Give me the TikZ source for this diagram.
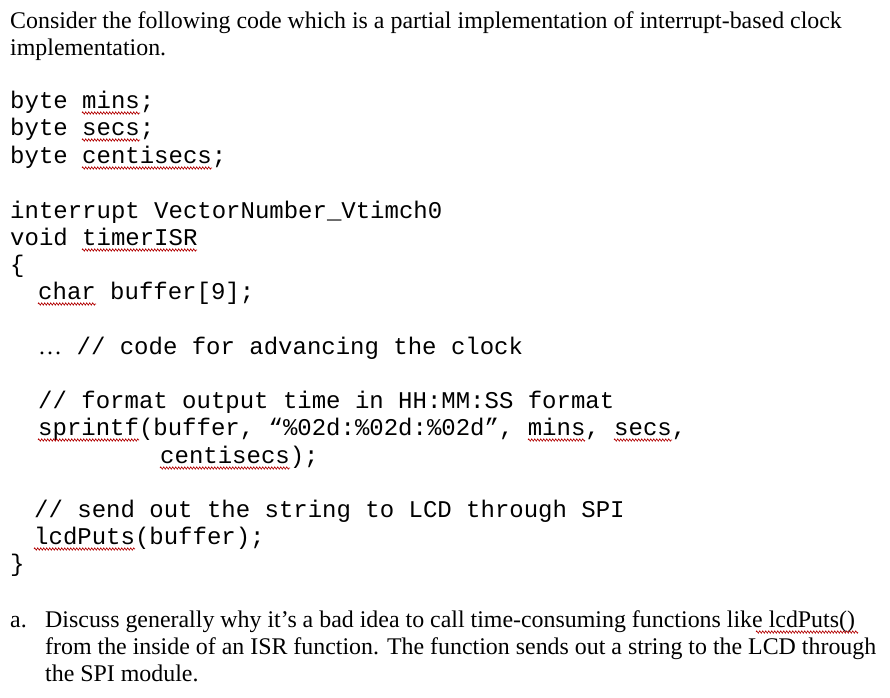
\documentclass[tikz,border=0pt]{standalone}
\usepackage{fontspec}
\setmainfont{Liberation Serif}
\setmonofont{Liberation Mono}
\usetikzlibrary{decorations.pathmorphing}
\begin{document}
\begin{tikzpicture}[x=1pt,y=-1pt,
  ser/.style={anchor=base west,inner sep=0pt,font=\fontsize{23.9}{26}\selectfont},
  code/.style={anchor=base west,inner sep=0pt,font=\fontsize{24}{27}\ttfamily},
  sq/.style={draw=red!70!black,line width=0.6pt,decorate,decoration={zigzag,amplitude=1.2pt,segment length=3pt}}]
\useasboundingbox (0,0) rectangle (890,697);
\fill[white] (0,0) rectangle (890,697);
\node[ser] (t1) at (10,28) {Consider the following code which is a partial implementation of interrupt-based clock};
\node[ser] (t2) at (10,55) {implementation.};
\node[code] (c1) at (10,108) {byte mins;};
\node[code] (c2) at (10,135) {byte secs;};
\node[code] (c3) at (10,163) {byte centisecs;};
\node[code] (c4) at (10,218) {interrupt VectorNumber\_Vtimch0};
\node[code] (c5) at (10,245) {void timerISR};
\node[code] (c6) at (10,272) {\{};
\node[code] (c7) at (38,299) {char buffer[9];};
\node[code] (c8) at (38,354) {{\rmfamily …} // code for advancing the clock};
\node[code] (c9) at (38,408) {// format output time in HH:MM:SS format};
\node[code] (c10) at (38,435) {sprintf(buffer, “\%02d:\%02d:\%02d”, mins, secs,};
\node[code] (c11) at (160,463) {centisecs);};
\node[code] (c12) at (34,517) {// send out the string to LCD through SPI};
\node[code] (c13) at (34,544) {lcdPuts(buffer);};
\node[code] (c14) at (10,571) {\}};
\node[ser] (a) at (10,627) {a.};
\node[ser] (q1) at (45,627) {Discuss generally why it’s a bad idea to call time-consuming functions like lcdPuts()};
\node[ser] (q2) at (45,654) {from the inside of an ISR function. The function sends out a string to the LCD through};
\node[ser] (q3) at (45,681) {the SPI module.};
\foreach \xa/\xb/\yy in {82/140/113,82/140/140,82/212/168,82/197/250,38/96/304,38/139/440,528/585/440,614/672/440,160/290/468,34/135/549,756/858/632}
  \draw[sq] (\xa,\yy) -- (\xb,\yy);
\end{tikzpicture}
\end{document}
